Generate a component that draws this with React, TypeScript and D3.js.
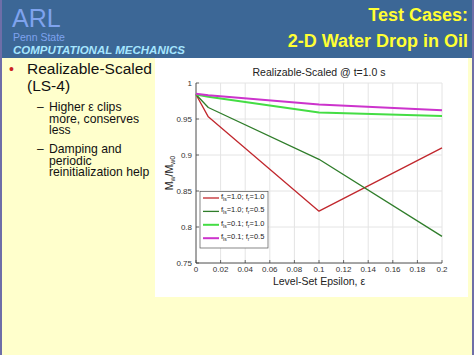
import React from "react";
import * as d3 from "d3";

const eps = [0, 0.01, 0.1, 0.2];
const seriesNames = ["1.0|1.0", "1.0|0.5", "0.1|1.0", "0.1|0.5"];
const redVals = [0.984, 0.953, 0.822, 0.91];
const darkGreenVals = [0.984, 0.966, 0.894, 0.787];
const lightGreenVals = [0.984, 0.981, 0.959, 0.954];
const magentaVals = [0.985, 0.983, 0.97, 0.962];
const xTicks = [0, 0.02, 0.04, 0.06, 0.08, 0.1, 0.12, 0.14, 0.16, 0.18, 0.2];
const yTicks = [0.75, 0.8, 0.85, 0.9, 0.95, 1];
const colors = ["#c1272d", "#2f7d2a", "#44dd44", "#cc33cc"];
const widths = [1.3, 1.3, 2, 2];

const W = 474, H = 355;
const px0 = 196, px1 = 442, py0 = 83, py1 = 263;

export default function App() {
  const x = d3.scaleLinear().domain([0, 0.2]).range([px0, px1]);
  const y = d3.scaleLinear().domain([0.75, 1]).range([py1, py0]);
  const line = d3.line<number>().x((_, i) => x(eps[i])).y((d) => y(d));
  const all = [redVals, darkGreenVals, lightGreenVals, magentaVals];
  const font = "'Liberation Sans', Arial, sans-serif";
  const fmt = (v: number) => (v === 0 ? "0" : v === 1 ? "1" : String(+v.toFixed(2)));
  return (
    <svg width={W} height={H} style={{ position: "absolute", left: 0, top: 0 }} fontFamily={font}>
      <rect x={0} y={0} width={W} height={H} fill="#ffffcc" />
      <rect x={0} y={0} width={W} height={58} fill="#3c6796" />
      <rect x={0} y={0} width={2} height={H} fill="#6e6ea8" />
      <rect x={472} y={0} width={2} height={H} fill="#6e6ea8" />
      {/* header */}
      <text x={12} y={27} fontSize={25} fill="#7fa3ee">ARL</text>
      <text x={13} y={41} fontSize={10.5} fill="#7fa3ee">Penn State</text>
      <text x={13} y={53.5} fontSize={11.5} fontStyle="italic" fontWeight="bold" fill="#a6e6ff">COMPUTATIONAL MECHANICS</text>
      <text x={468} y={21} fontSize={18} fontWeight="bold" fill="#ffff33" textAnchor="end">Test Cases:</text>
      <text x={468} y={47} fontSize={18} fontWeight="bold" fill="#ffff33" textAnchor="end">2-D Water Drop in Oil</text>
      {/* left bullets */}
      <text x={9} y={74} fontSize={14} fill="#cc2222">•</text>
      <text x={27} y={74} fontSize={15.5} fill="#111">
        <tspan x={27} y={74}>Realizable-Scaled</tspan>
        <tspan x={27} y={91}>(LS-4)</tspan>
      </text>
      {[["Higher ε clips", "more, conserves", "less"], ["Damping and", "periodic", "reinitialization help"]].map((g, gi) => {
        const y0 = gi === 0 ? 111 : 153;
        return (
          <g key={gi}>
            <text x={37} y={y0} fontSize={12} fill="#111">–</text>
            <text x={49} y={y0} fontSize={12.2} fill="#111">
              {g.map((t, i) => (
                <tspan key={i} x={49} y={y0 + i * 11.6}>{t}</tspan>
              ))}
            </text>
          </g>
        );
      })}
      {/* chart panel */}
      <rect x={155} y={58} width={313} height={239} fill="#ffffff" />
      <text x={319} y={76} fontSize={10.5} textAnchor="middle" fill="#222">Realizable-Scaled @ t=1.0 s</text>
      {xTicks.map((t) => (
        <line key={"gx" + t} x1={x(t)} x2={x(t)} y1={py0} y2={py1} stroke="#e4e4e4" strokeWidth={1} />
      ))}
      {yTicks.map((t) => (
        <line key={"gy" + t} x1={px0} x2={px1} y1={y(t)} y2={y(t)} stroke="#e4e4e4" strokeWidth={1} />
      ))}
      <line x1={px0} x2={px0} y1={py0} y2={py1} stroke="#333" strokeWidth={0.8} />
      <line x1={px0} x2={px1} y1={py1} y2={py1} stroke="#333" strokeWidth={0.8} />
      {xTicks.map((t) => (
        <g key={"tx" + t}>
          <line x1={x(t)} x2={x(t)} y1={py1} y2={py1 - 3} stroke="#333" strokeWidth={0.7} />
          <text x={x(t)} y={py1 + 9} fontSize={8} textAnchor="middle" fill="#333">{fmt(t)}</text>
        </g>
      ))}
      {yTicks.map((t) => (
        <g key={"ty" + t}>
          <line x1={px0} x2={px0 + 3} y1={y(t)} y2={y(t)} stroke="#333" strokeWidth={0.7} />
          <text x={px0 - 4} y={y(t) + 3} fontSize={8} textAnchor="end" fill="#333">{fmt(t)}</text>
        </g>
      ))}
      <text x={319} y={284.5} fontSize={10.5} textAnchor="middle" fill="#222">Level-Set Epsilon, ε</text>
      <text transform={`translate(173,${(py0 + py1) / 2}) rotate(-90)`} fontSize={10.5} textAnchor="middle" fill="#222">
        M<tspan fontSize={7} dy={2}>w</tspan><tspan dy={-2}>/M</tspan><tspan fontSize={7} dy={2}>w0</tspan>
      </text>
      {all.map((vals, i) => (
        <path key={i} d={line(vals) || ""} fill="none" stroke={colors[i]} strokeWidth={widths[i]} strokeLinejoin="round" />
      ))}
      {/* legend */}
      <rect x={200} y={191.5} width={68} height={56.5} fill="#fff" stroke="#555" strokeWidth={0.7} />
      {seriesNames.map((n, i) => {
        const [ls, r] = n.split("|");
        const ly = 197 + i * 13.4;
        return (
          <g key={n}>
            <line x1={203} x2={219} y1={ly + 1} y2={ly + 1} stroke={colors[i]} strokeWidth={widths[i]} />
            <text x={221} y={ly + 2} fontSize={7.5} fill="#222">
              f<tspan fontSize={5} dy={2}>ls</tspan><tspan dy={-2}>={ls}; f</tspan><tspan fontSize={5} dy={2}>r</tspan><tspan dy={-2}>={r}</tspan>
            </text>
          </g>
        );
      })}
    </svg>
  );
}
